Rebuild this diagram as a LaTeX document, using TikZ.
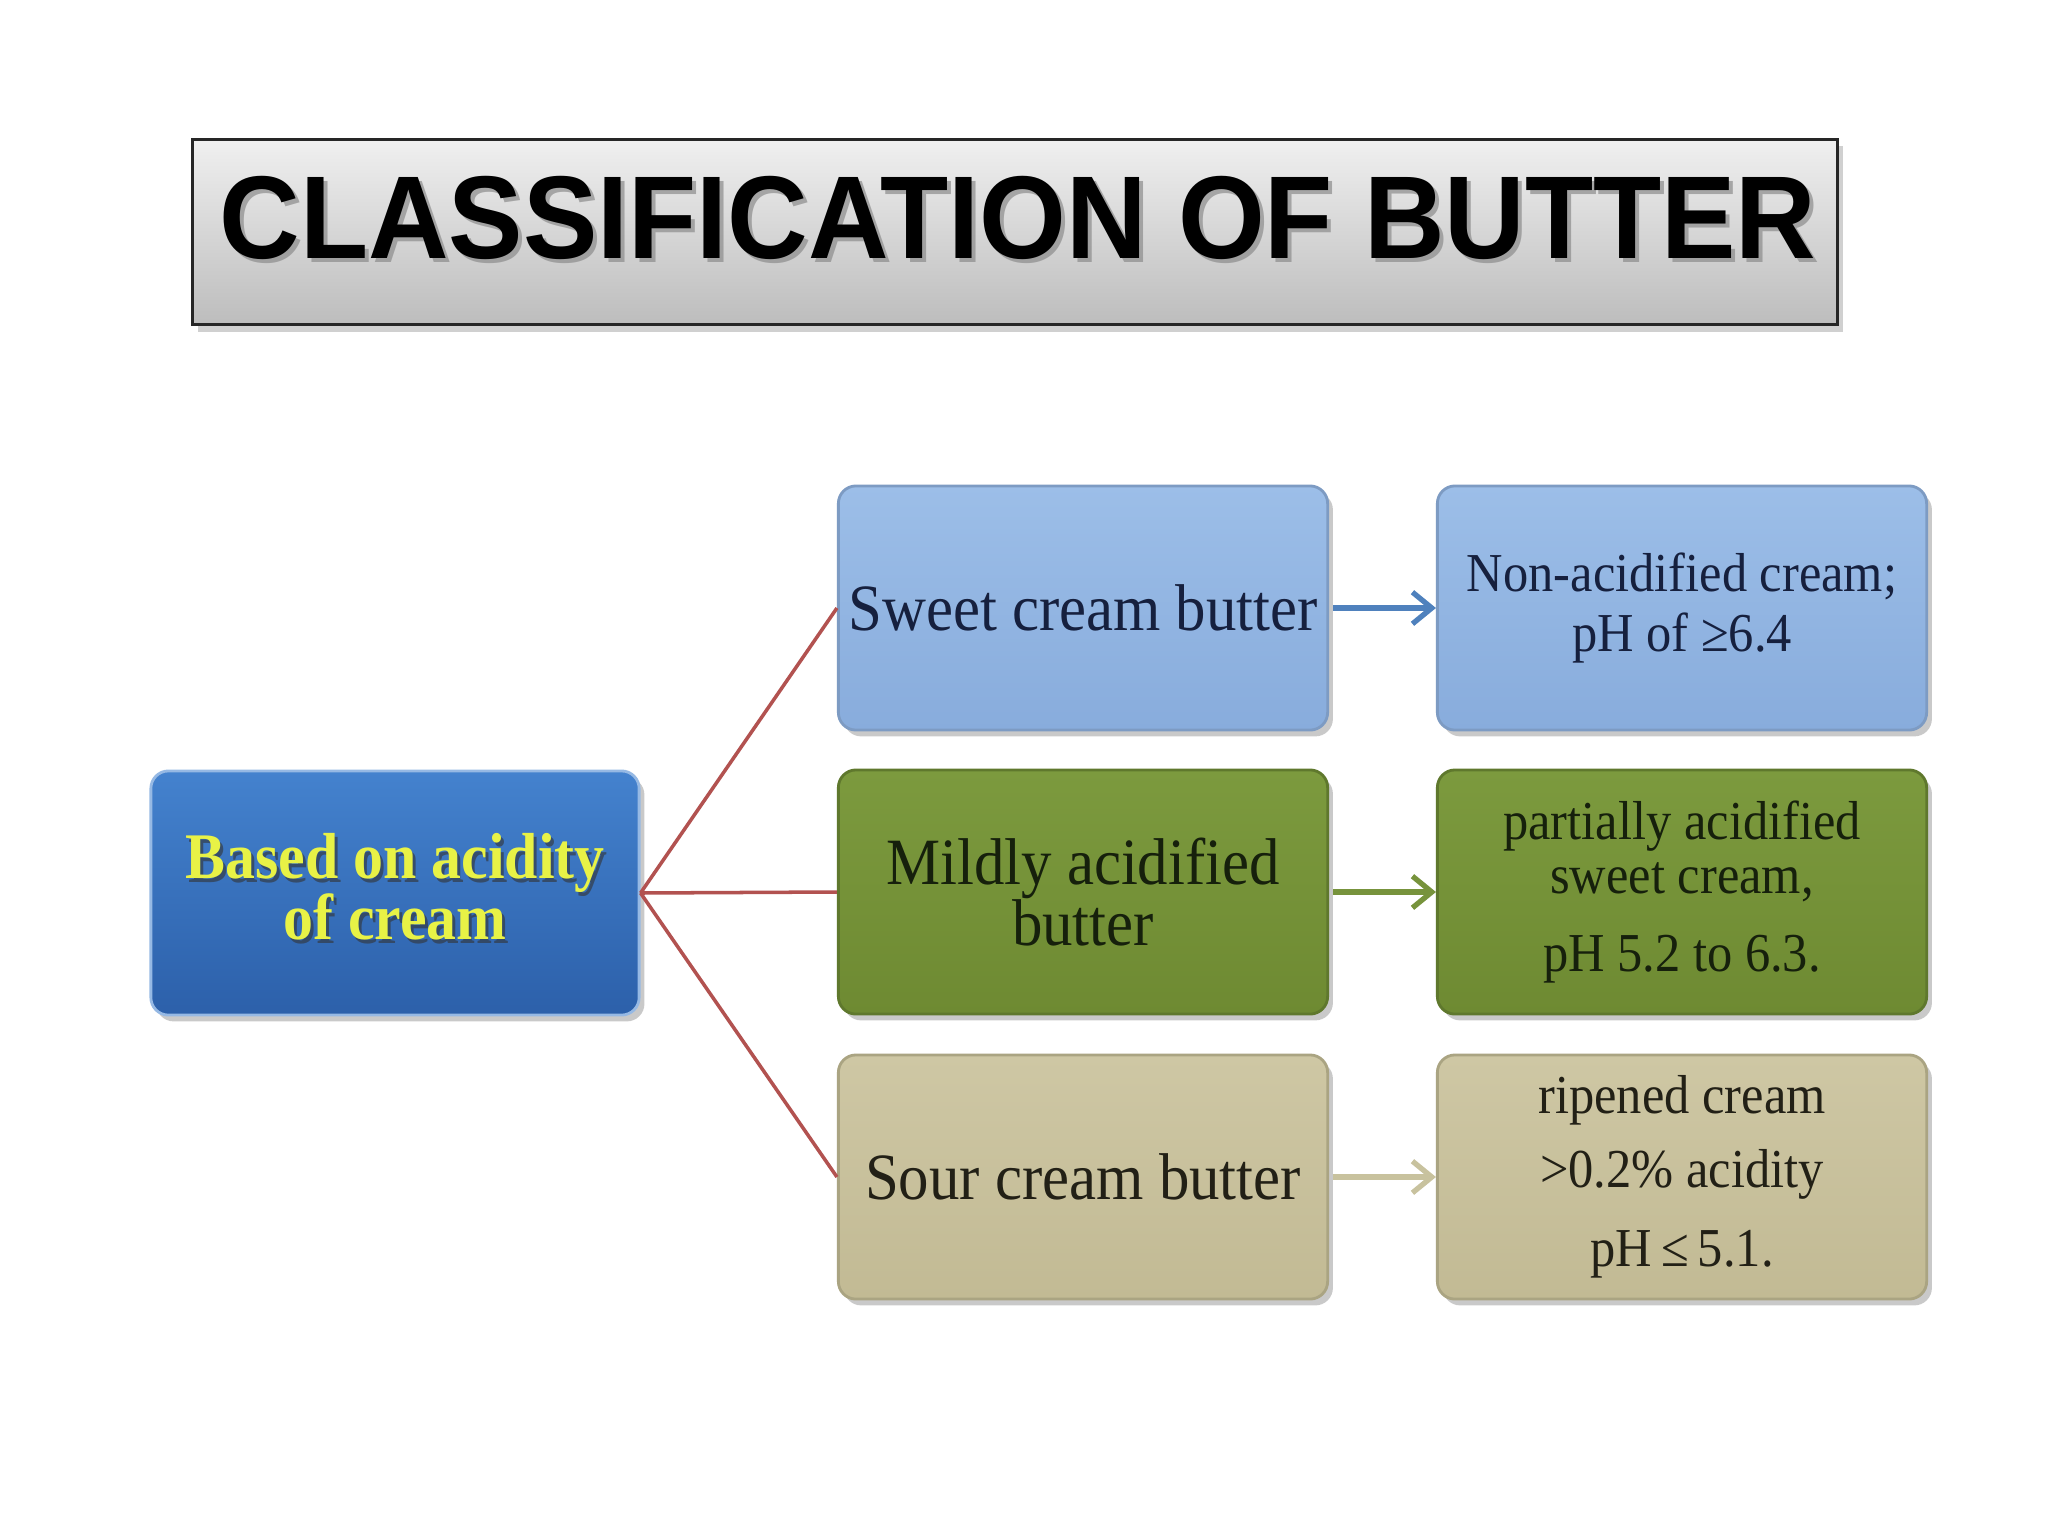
\documentclass[tikz,border=0pt]{standalone}
\usepackage{fontspec}
\setmainfont{Liberation Serif}
\newfontfamily\titlefont[FakeStretch=0.947]{Liberation Sans}
\newfontfamily\boxfont[FakeStretch=0.92]{Liberation Serif}
\usetikzlibrary{arrows.meta,shadows}
\definecolor{lbTop}{RGB}{68,130,206}
\definecolor{lbBot}{RGB}{44,96,170}
\definecolor{lbLine}{RGB}{150,185,228}
\definecolor{skyTop}{RGB}{156,190,232}
\definecolor{skyBot}{RGB}{136,172,220}
\definecolor{skyLine}{RGB}{125,155,195}
\definecolor{grnTop}{RGB}{124,154,62}
\definecolor{grnBot}{RGB}{110,138,50}
\definecolor{grnLine}{RGB}{95,120,45}
\definecolor{tanTop}{RGB}{206,199,164}
\definecolor{tanBot}{RGB}{194,186,148}
\definecolor{tanLine}{RGB}{170,164,130}
\definecolor{navyText}{RGB}{22,32,62}
\definecolor{grnText}{RGB}{22,32,12}
\definecolor{tanText}{RGB}{34,32,22}
\definecolor{yelText}{RGB}{232,242,70}
\definecolor{linkRed}{RGB}{178,82,80}
\definecolor{arrBlue}{RGB}{79,129,189}
\definecolor{arrGreen}{RGB}{119,147,60}
\definecolor{arrTan}{RGB}{200,194,158}
\tikzset{
  card/.style={rectangle, rounded corners=5pt, inner sep=0pt,
    minimum width=4.89cm, minimum height=2.44cm, line width=0.8pt,
    align=center, drop shadow={shadow xshift=1.5pt, shadow yshift=-1.8pt, opacity=0.35, fill=black!60}},
  skycard/.style={card, top color=skyTop, bottom color=skyBot, draw=skyLine, text=navyText},
  grncard/.style={card, top color=grnTop, bottom color=grnBot, draw=grnLine, text=grnText},
  tancard/.style={card, top color=tanTop, bottom color=tanBot, draw=tanLine, text=tanText},
  bluecard/.style={card, top color=lbTop, bottom color=lbBot, draw=lbLine},
  midtext/.style={font=\boxfont\fontsize{18.8}{17.4}\selectfont},
  righttext/.style={font=\boxfont\fontsize{15.6}{17}\selectfont},
  link/.style={draw=linkRed, line width=1pt},
  flow/.style={line width=1.5pt, shorten <=1.2pt, -{Straight Barb[length=5.5pt,width=9pt,line width=1.5pt]}}
}
\begin{document}
\begin{tikzpicture}[x=0.01cm,y=-0.01cm]
\useasboundingbox[fill=white] (0,0) rectangle (2048,1536);
% title
\node[rectangle, minimum width=16.44cm, minimum height=1.85cm, inner sep=0pt,
  top color=black!6, bottom color=black!26, draw=black!85, line width=0.8pt,
  drop shadow={shadow xshift=1.5pt, shadow yshift=-2pt, opacity=0.3, fill=black!60}] (title) at (1015,232) {};
\node[text=black!45, opacity=0.7, font=\titlefont\bfseries\fontsize{33.5}{33.5}\selectfont] (titleshadow) at (1022,222) {CLASSIFICATION OF BUTTER};
\node[text=black, font=\titlefont\bfseries\fontsize{33.5}{33.5}\selectfont] (titletext) at (1018,218) {CLASSIFICATION OF BUTTER};
% left box
\node[bluecard, minimum width=4.88cm, minimum height=2.44cm] (based) at (395,893) {};
\node[align=center, text=black!80, opacity=0.6, font=\boxfont\bfseries\fontsize{18.5}{17.4}\selectfont] (basedshadow) at (398,891) {Based on acidity\\of cream};
\node[align=center, text=yelText, font=\boxfont\bfseries\fontsize{18.5}{17.4}\selectfont] (basedtext) at (395,887) {Based on acidity\\of cream};
% middle column
\node[skycard, midtext] (sweet) at (1083,608) {Sweet cream butter};
\node[grncard, midtext] (mild) at (1083,892) {Mildly acidified\\butter};
\node[tancard, midtext] (sour) at (1083,1177) {Sour cream butter};
% right column
\node[skycard, righttext] (nonacid) at (1682,608) {Non-acidified cream;\\pH of ≥6.4};
\node[grncard, font=\boxfont\fontsize{15.6}{15.4}\selectfont] (partial) at (1682,892) {partially acidified\\sweet cream,\\[7pt]pH 5.2 to 6.3.};
\node[tancard, font=\boxfont\fontsize{15.6}{21}\selectfont] (ripened) at (1682,1177) {ripened cream\\>0.2\% acidity\\[1.5pt]pH\,≤\,5.1.};
% connectors
\draw[link] (based.east) -- (sweet.west);
\draw[link] (based.east) -- (mild.west);
\draw[link] (based.east) -- (sour.west);
\draw[flow, draw=arrBlue] (sweet.east) -- (nonacid.west);
\draw[flow, draw=arrGreen] (mild.east) -- (partial.west);
\draw[flow, draw=arrTan] (sour.east) -- (ripened.west);
\end{tikzpicture}
\end{document}
